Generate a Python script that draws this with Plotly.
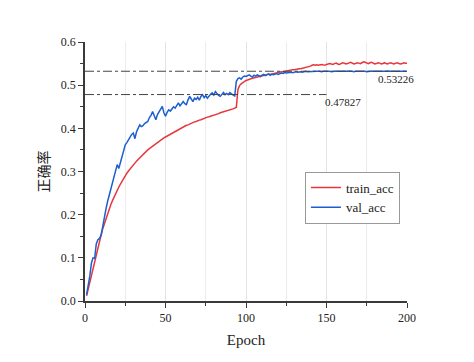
import plotly.graph_objects as go

epochs = list(range(1, 201))

train_acc = [
    0.012, 0.028, 0.045, 0.062, 0.079, 0.095, 0.110, 0.125, 0.139, 0.153,
    0.167, 0.179, 0.191, 0.202, 0.213, 0.223, 0.232, 0.241, 0.249, 0.257,
    0.264, 0.271, 0.278, 0.284, 0.290, 0.296, 0.301, 0.306, 0.311, 0.316,
    0.320, 0.324, 0.328, 0.332, 0.336, 0.340, 0.343, 0.346, 0.350, 0.353,
    0.356, 0.359, 0.362, 0.365, 0.368, 0.370, 0.373, 0.375, 0.378, 0.380,
    0.382, 0.385, 0.387, 0.389, 0.391, 0.393, 0.396, 0.398, 0.400, 0.402,
    0.403, 0.405, 0.407, 0.408, 0.410, 0.412, 0.413, 0.415, 0.416, 0.418,
    0.419, 0.420, 0.422, 0.423, 0.425, 0.426, 0.427, 0.428, 0.430, 0.431,
    0.432, 0.433, 0.434, 0.436, 0.437, 0.438, 0.439, 0.440, 0.442, 0.443,
    0.444, 0.445, 0.447, 0.449, 0.490, 0.499, 0.503, 0.506, 0.509, 0.511,
    0.512, 0.514, 0.515, 0.516, 0.517, 0.518, 0.519, 0.520, 0.521, 0.521,
    0.522, 0.523, 0.524, 0.525, 0.525, 0.526, 0.527, 0.528, 0.528, 0.529,
    0.530, 0.531, 0.531, 0.532, 0.533, 0.534, 0.535, 0.535, 0.536, 0.536,
    0.537, 0.537, 0.538, 0.538, 0.539, 0.539, 0.540, 0.541, 0.542, 0.544,
    0.546, 0.547, 0.546, 0.547, 0.546, 0.547, 0.548, 0.547, 0.546, 0.548,
    0.549, 0.550, 0.549, 0.548, 0.550, 0.551, 0.549, 0.548, 0.550, 0.552,
    0.551, 0.549, 0.550, 0.552, 0.553, 0.551, 0.549, 0.550, 0.552, 0.551,
    0.550, 0.552, 0.554, 0.553, 0.551, 0.550, 0.552, 0.553, 0.551, 0.549,
    0.550, 0.552, 0.551, 0.549, 0.550, 0.552, 0.550, 0.549, 0.551, 0.552,
    0.550, 0.549, 0.551, 0.552, 0.550, 0.549, 0.550, 0.552, 0.551, 0.551,
]

val_acc = [
    0.015, 0.035, 0.058, 0.088, 0.100, 0.099, 0.132, 0.142, 0.145, 0.152,
    0.175, 0.195, 0.213, 0.230, 0.245, 0.259, 0.270, 0.283, 0.299, 0.316,
    0.307, 0.322, 0.338, 0.350, 0.362, 0.367, 0.374, 0.381, 0.386, 0.389,
    0.376, 0.392, 0.401, 0.408, 0.404, 0.406, 0.411, 0.414, 0.416, 0.425,
    0.430, 0.439, 0.428, 0.420, 0.432, 0.438, 0.443, 0.451, 0.436, 0.428,
    0.437, 0.443, 0.440, 0.446, 0.450, 0.447, 0.455, 0.459, 0.452, 0.458,
    0.462, 0.457, 0.455, 0.466, 0.474, 0.468, 0.462, 0.470, 0.467, 0.472,
    0.465, 0.474, 0.478, 0.471, 0.476, 0.470, 0.476, 0.479, 0.482, 0.477,
    0.485, 0.479, 0.476, 0.474, 0.480, 0.483, 0.478, 0.481, 0.478, 0.483,
    0.480, 0.477, 0.475, 0.509, 0.515, 0.517, 0.514, 0.519, 0.521, 0.520,
    0.523, 0.524, 0.521, 0.519, 0.523, 0.521, 0.524, 0.522, 0.520, 0.523,
    0.525, 0.522, 0.524, 0.526, 0.523, 0.525, 0.524, 0.526, 0.527, 0.525,
    0.527, 0.528, 0.527, 0.529, 0.528, 0.529, 0.529, 0.530, 0.529, 0.530,
    0.531, 0.530, 0.531, 0.531, 0.530, 0.531, 0.532, 0.531, 0.531, 0.532,
    0.532, 0.531, 0.532, 0.532, 0.533, 0.532, 0.531, 0.532, 0.532, 0.533,
    0.532, 0.532, 0.531, 0.532, 0.532, 0.533, 0.532, 0.532, 0.532, 0.531,
    0.532, 0.532, 0.533, 0.532, 0.532, 0.532, 0.531, 0.532, 0.532, 0.533,
    0.532, 0.532, 0.532, 0.532, 0.531, 0.532, 0.532, 0.533, 0.532, 0.532,
    0.532, 0.532, 0.532, 0.531, 0.532, 0.532, 0.532, 0.533, 0.532, 0.532,
    0.532, 0.532, 0.532, 0.532, 0.532, 0.531, 0.532, 0.532, 0.532, 0.532,
]

ref_values = [0.53226, 0.47827]
ref_ends = [200, 150]
ref_labels = ["0.53226", "0.47827"]
ref_label_x = [193, 160]
ref_label_y = [0.514, 0.462]

x_ticks = [0, 50, 100, 150, 200]
y_ticks = [0.0, 0.1, 0.2, 0.3, 0.4, 0.5, 0.6]

SERIF = "Liberation Serif"
AX = "#3a3a3a"
TXT = "#222222"

fig = go.Figure()
fig.add_trace(go.Scatter(x=epochs, y=train_acc, mode="lines", name="train_acc",
                         line=dict(color="#e8363c", width=1.5)))
fig.add_trace(go.Scatter(x=epochs, y=val_acc, mode="lines", name="val_acc",
                         line=dict(color="#1c5fd0", width=1.5)))

for v, e in zip(ref_values, ref_ends):
    fig.add_shape(type="line", x0=0, x1=e, y0=v, y1=v, xref="x", yref="y",
                  line=dict(color="#444444", width=1, dash="dashdot"))

for t, lx, ly in zip(ref_labels, ref_label_x, ref_label_y):
    fig.add_annotation(x=lx, y=ly, text=t, showarrow=False, xref="x", yref="y",
                       font=dict(family=SERIF, size=11, color=TXT))

fig.update_layout(
    width=474, height=362,
    margin=dict(l=77, r=75, t=34, b=69),
    paper_bgcolor="white", plot_bgcolor="white",
    showlegend=True,
    legend=dict(x=0.683, y=0.5, xanchor="left", yanchor="top",
                bgcolor="white", bordercolor="#999999", borderwidth=1,
                font=dict(family=SERIF, size=13, color=TXT),
                tracegroupgap=0, itemwidth=30),
    font=dict(family=SERIF, color=TXT),
)

fig.update_xaxes(
    range=[0, 200], tickvals=x_ticks, showline=True, linecolor=AX, linewidth=1.5,
    ticks="outside", ticklen=5, tickwidth=1.2, tickcolor=AX,
    showgrid=True, gridcolor="#e4e4e4", gridwidth=1,
    minor=dict(dtick=25, ticks="outside", ticklen=3, tickcolor=AX, showgrid=True, gridcolor="#ececec"),
    zeroline=False,
    tickfont=dict(family=SERIF, size=12, color=TXT),
    title=dict(text="Epoch", font=dict(family=SERIF, size=15, color=TXT), standoff=10),
)
fig.update_yaxes(
    range=[0, 0.6], tickvals=y_ticks, tickformat=".1f", showline=True, linecolor=AX, linewidth=1.5,
    ticks="outside", ticklen=5, tickwidth=1.2, tickcolor=AX,
    showgrid=False,
    minor=dict(dtick=0.05, ticks="outside", ticklen=3, tickcolor=AX, showgrid=False),
    zeroline=False,
    tickfont=dict(family=SERIF, size=12, color=TXT),
    title=dict(text="正确率", font=dict(family="Liberation Serif, Noto Sans CJK SC", size=14, color=TXT), standoff=8),
)

fig.write_html("out.html")
